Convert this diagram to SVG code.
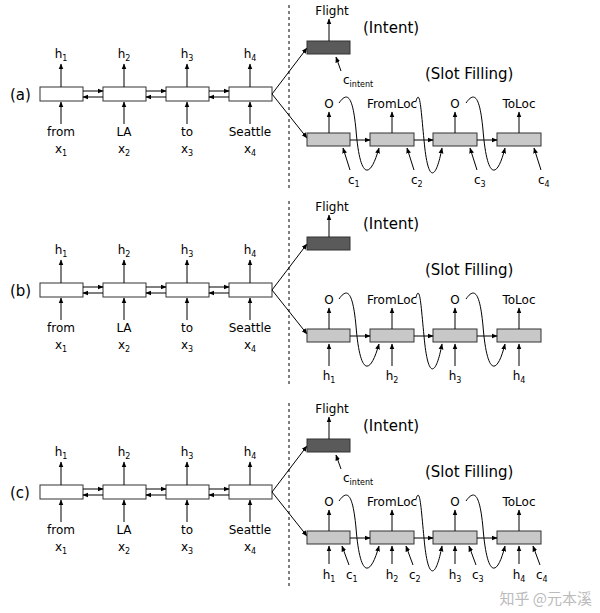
<svg xmlns="http://www.w3.org/2000/svg" width="600" height="613" viewBox="0 0 600 613">
<defs>
<marker id="ah" viewBox="0 0 10 10" refX="9" refY="5" markerWidth="6" markerHeight="6" markerUnits="userSpaceOnUse" orient="auto"><path d="M0,1 L10,5 L0,9 z" fill="#000"/></marker>
<style>
text{font-family:"DejaVu Sans",Verdana,sans-serif;font-size:12px;fill:#000}
.sub{font-size:8px}
.big{font-size:15px}
.enc{fill:#fff;stroke:#333;stroke-width:1}
.slot{fill:#c8c8c8;stroke:#333;stroke-width:1}
.int{fill:#5a5a5a;stroke:#333;stroke-width:1}
.a{stroke:#000;stroke-width:1;fill:none;marker-end:url(#ah)}
.t{text-anchor:middle}
</style>
<g id="encoder">
<rect class="enc" x="40" y="87" width="43" height="14"/>
<rect class="enc" x="103" y="87" width="43" height="14"/>
<rect class="enc" x="166" y="87" width="43" height="14"/>
<rect class="enc" x="229" y="87" width="43" height="14"/>
<path class="a" d="M61,87V64"/><path class="a" d="M124,87V64"/><path class="a" d="M187,87V64"/><path class="a" d="M250,87V64"/>
<path class="a" d="M61,124V102"/><path class="a" d="M124,124V102"/><path class="a" d="M187,124V102"/><path class="a" d="M250,124V102"/>
<path class="a" d="M83,91H103"/><path class="a" d="M146,91H166"/><path class="a" d="M209,91H229"/>
<path class="a" d="M103,97H83"/><path class="a" d="M166,97H146"/><path class="a" d="M229,97H209"/>
<path class="a" d="M272,94L307,48"/><path class="a" d="M272,94L307,138"/>
<text x="61" y="58" class="t">h<tspan class="sub" dy="3">1</tspan></text>
<text x="124" y="58" class="t">h<tspan class="sub" dy="3">2</tspan></text>
<text x="187" y="58" class="t">h<tspan class="sub" dy="3">3</tspan></text>
<text x="250" y="58" class="t">h<tspan class="sub" dy="3">4</tspan></text>
<text x="61" y="136" class="t">from</text><text x="124" y="136" class="t">LA</text><text x="187" y="136" class="t">to</text><text x="250" y="136" class="t">Seattle</text>
<text x="61" y="153" class="t">x<tspan class="sub" dy="3">1</tspan></text>
<text x="124" y="153" class="t">x<tspan class="sub" dy="3">2</tspan></text>
<text x="187" y="153" class="t">x<tspan class="sub" dy="3">3</tspan></text>
<text x="250" y="153" class="t">x<tspan class="sub" dy="3">4</tspan></text>
<line x1="289" y1="5" x2="289" y2="190" stroke="#000" stroke-dasharray="3,3"/>
<rect class="int" x="307" y="41" width="43" height="13"/>
<path class="a" d="M329,41V19"/>
<text x="332" y="15" class="t">Flight</text>
<text x="363" y="33" class="big">(Intent)</text>
<text x="425" y="79" class="big">(Slot Filling)</text>
<rect class="slot" x="307" y="133" width="43" height="13"/>
<rect class="slot" x="370" y="133" width="44" height="13"/>
<rect class="slot" x="433" y="133" width="44" height="13"/>
<rect class="slot" x="497" y="133" width="44" height="13"/>
<path class="a" d="M329,133V112"/><path class="a" d="M392,133V112"/><path class="a" d="M455,133V112"/><path class="a" d="M519,133V112"/>
<path class="a" d="M350,140H370"/><path class="a" d="M414,140H433"/><path class="a" d="M477,140H497"/>
<text x="329" y="108" class="t">O</text><text x="392" y="108" class="t">FromLoc</text><text x="455" y="108" class="t">O</text><text x="519" y="108" class="t">ToLoc</text>
<path class="a" d="M339,103 C348,90 353,98 356,130 C360,180 370,180 379,148"/>
<path class="a" d="M416,101 C420,88 421,110 424,140 C428,185 436,180 442,148"/>
<path class="a" d="M466,103 C475,90 480,98 483,130 C487,180 497,180 505,148"/>
</g>
</defs>
<g id="panel-a">
<use href="#encoder"/>
<text x="10" y="100" class="big">(a)</text>
<path class="a" d="M341,71L336,57"/>
<text x="343" y="84">c<tspan class="sub" dy="3">intent</tspan></text>
<path class="a" d="M350,170L343,148"/><path class="a" d="M414,170L407,148"/><path class="a" d="M477,170L470,148"/><path class="a" d="M541,170L534,148"/>
<text x="348" y="184">c<tspan class="sub" dy="3">1</tspan></text>
<text x="411" y="184">c<tspan class="sub" dy="3">2</tspan></text>
<text x="474" y="184">c<tspan class="sub" dy="3">3</tspan></text>
<text x="538" y="184">c<tspan class="sub" dy="3">4</tspan></text>
</g>
<g id="panel-b" transform="translate(0,196)">
<use href="#encoder"/>
<text x="10" y="100" class="big">(b)</text>
<path class="a" d="M329,170V148"/><path class="a" d="M392,170V148"/><path class="a" d="M455,170V148"/><path class="a" d="M519,170V148"/>
<text x="329" y="184" class="t">h<tspan class="sub" dy="3">1</tspan></text>
<text x="392" y="184" class="t">h<tspan class="sub" dy="3">2</tspan></text>
<text x="455" y="184" class="t">h<tspan class="sub" dy="3">3</tspan></text>
<text x="519" y="184" class="t">h<tspan class="sub" dy="3">4</tspan></text>
</g>
<g id="panel-c" transform="translate(0,398)">
<use href="#encoder"/>
<text x="10" y="100" class="big">(c)</text>
<path class="a" d="M341,71L336,57"/>
<text x="343" y="84">c<tspan class="sub" dy="3">intent</tspan></text>
<path class="a" d="M329,166V148"/><path class="a" d="M392,166V148"/><path class="a" d="M455,166V148"/><path class="a" d="M519,166V148"/>
<path class="a" d="M349,167L342,148"/><path class="a" d="M413,167L406,148"/><path class="a" d="M476,167L469,148"/><path class="a" d="M540,167L533,148"/>
<text x="329" y="181" class="t">h<tspan class="sub" dy="3">1</tspan></text>
<text x="392" y="181" class="t">h<tspan class="sub" dy="3">2</tspan></text>
<text x="455" y="181" class="t">h<tspan class="sub" dy="3">3</tspan></text>
<text x="519" y="181" class="t">h<tspan class="sub" dy="3">4</tspan></text>
<text x="346" y="181">c<tspan class="sub" dy="3">1</tspan></text>
<text x="409" y="181">c<tspan class="sub" dy="3">2</tspan></text>
<text x="472" y="181">c<tspan class="sub" dy="3">3</tspan></text>
<text x="536" y="181">c<tspan class="sub" dy="3">4</tspan></text>
</g>
<text x="592" y="604" style="font-family:'Noto Sans CJK SC',sans-serif;font-size:15px;fill:#bbb;text-anchor:end">知乎 @元本溪</text>
</svg>
